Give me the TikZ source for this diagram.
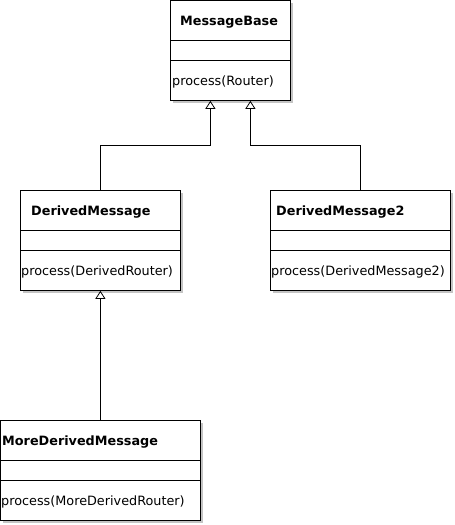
\documentclass[tikz,border=0pt]{standalone}
\usepackage{fontspec}
\setmainfont{DejaVu Sans}
\usepackage{tikz}
\usetikzlibrary{arrows.meta,positioning,calc,shadows}
\definecolor{umlInk}{HTML}{000000}
\definecolor{umlShade}{HTML}{C4C4C4}
\tikzset{
    classbox/.style={draw=umlInk, line width=0.8pt, fill=white, anchor=north west, inner sep=0pt, drop shadow={shadow xshift=3pt, shadow yshift=-3pt, fill=umlShade, opacity=1}},
    sepline/.style={draw=umlInk, line width=0.8pt},
    classname/.style={font=\fontsize{12.8}{14}\selectfont\bfseries, anchor=base west, inner sep=0pt},
    opname/.style={font=\fontsize{12.8}{14}\selectfont, anchor=base west, inner sep=0pt},
    genarrow/.style={-{Triangle[open, length=8pt, width=10pt, fill=white]}, line width=0.8pt, draw=umlInk}
}
\begin{document}
\begin{tikzpicture}[x=1pt, y=-1pt]
\useasboundingbox (0,0) rectangle (455,525);
% MessageBase
\node[classbox, minimum width=120pt, minimum height=100pt] (base) at (170,0) {};
\draw[sepline] ([yshift=-40pt]base.north west) -- ([yshift=-40pt]base.north east);
\draw[sepline] ([yshift=-60pt]base.north west) -- ([yshift=-60pt]base.north east);
\node[classname] (base-name) at ([xshift=10pt, yshift=-25pt]base.north west) {MessageBase};
\node[opname] (base-op) at ([xshift=2pt, yshift=-85pt]base.north west) {process(Router)};
% DerivedMessage
\node[classbox, minimum width=160pt, minimum height=100pt] (derived) at (20,190) {};
\draw[sepline] ([yshift=-40pt]derived.north west) -- ([yshift=-40pt]derived.north east);
\draw[sepline] ([yshift=-60pt]derived.north west) -- ([yshift=-60pt]derived.north east);
\node[classname] (derived-name) at ([xshift=11pt, yshift=-25pt]derived.north west) {DerivedMessage};
\node[opname] (derived-op) at ([xshift=1pt, yshift=-85pt]derived.north west) {process(DerivedRouter)};
% DerivedMessage2
\node[classbox, minimum width=180pt, minimum height=100pt] (derived2) at (270,190) {};
\draw[sepline] ([yshift=-40pt]derived2.north west) -- ([yshift=-40pt]derived2.north east);
\draw[sepline] ([yshift=-60pt]derived2.north west) -- ([yshift=-60pt]derived2.north east);
\node[classname] (derived2-name) at ([xshift=6pt, yshift=-25pt]derived2.north west) {DerivedMessage2};
\node[opname] (derived2-op) at ([xshift=1pt, yshift=-85pt]derived2.north west) {process(DerivedMessage2)};
% MoreDerivedMessage
\node[classbox, minimum width=200pt, minimum height=100pt] (more) at (0,420) {};
\draw[sepline] ([yshift=-40pt]more.north west) -- ([yshift=-40pt]more.north east);
\draw[sepline] ([yshift=-60pt]more.north west) -- ([yshift=-60pt]more.north east);
\node[classname] (more-name) at ([xshift=2pt, yshift=-25pt]more.north west) {MoreDerivedMessage};
\node[opname] (more-op) at ([xshift=1pt, yshift=-85pt]more.north west) {process(MoreDerivedRouter)};
% generalisations
\draw[genarrow] (derived.north) -- ++(0,-45) -| ([xshift=-20pt]base.south);
\draw[genarrow] (derived2.north) -- ++(0,-45) -| ([xshift=20pt]base.south);
\draw[genarrow] (more.north) -- (derived.south);
\end{tikzpicture}
\end{document}
